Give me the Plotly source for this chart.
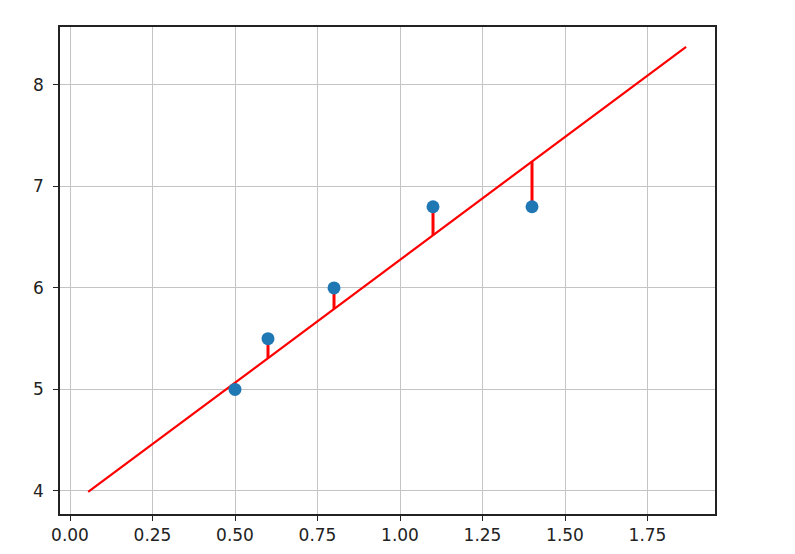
import plotly.graph_objects as go

# data
x_pts = [0.5, 0.6, 0.8, 1.1, 1.4]
y_pts = [5.0, 5.5, 6.0, 6.8, 6.8]
slope = 2.42
intercept = 3.857
line_x = [0.055, 1.867]
x_ticks = [0.0, 0.25, 0.5, 0.75, 1.0, 1.25, 1.5, 1.75]
y_ticks = [4, 5, 6, 7, 8]

line_y = [slope * v + intercept for v in line_x]

res_x, res_y = [], []
for xv, yv in zip(x_pts, y_pts):
    res_x += [xv, xv, None]
    res_y += [yv, slope * xv + intercept, None]

fig = go.Figure()
fig.add_trace(go.Scatter(x=line_x, y=line_y, mode="lines",
                         line=dict(color="#ff0000", width=2.2), hoverinfo="skip"))
fig.add_trace(go.Scatter(x=res_x, y=res_y, mode="lines",
                         line=dict(color="#ff0000", width=3), hoverinfo="skip"))
fig.add_trace(go.Scatter(x=x_pts, y=y_pts, mode="markers",
                         marker=dict(color="#1f77b4", size=13)))

axis_common = dict(
    showline=True, mirror=True, linecolor="#222", linewidth=1.5,
    showgrid=True, gridcolor="#c4c4c4", gridwidth=1.4,
    zeroline=False, ticks="outside", ticklen=5, tickcolor="#222", tickwidth=1.2,
    tickfont=dict(family="DejaVu Sans", size=17, color="#222"),
)

fig.update_layout(
    width=795, height=554,
    margin=dict(l=52, r=88, t=19, b=48),
    paper_bgcolor="white", plot_bgcolor="white",
    showlegend=False,
    xaxis=dict(range=[-0.0303, 1.9545], tickvals=x_ticks,
               ticktext=[f"{v:.2f}" for v in x_ticks], **axis_common),
    yaxis=dict(range=[3.773, 8.571], tickvals=y_ticks,
               ticktext=[str(v) for v in y_ticks], ticklabelstandoff=6, **axis_common),
)

fig.write_html("out.html")
